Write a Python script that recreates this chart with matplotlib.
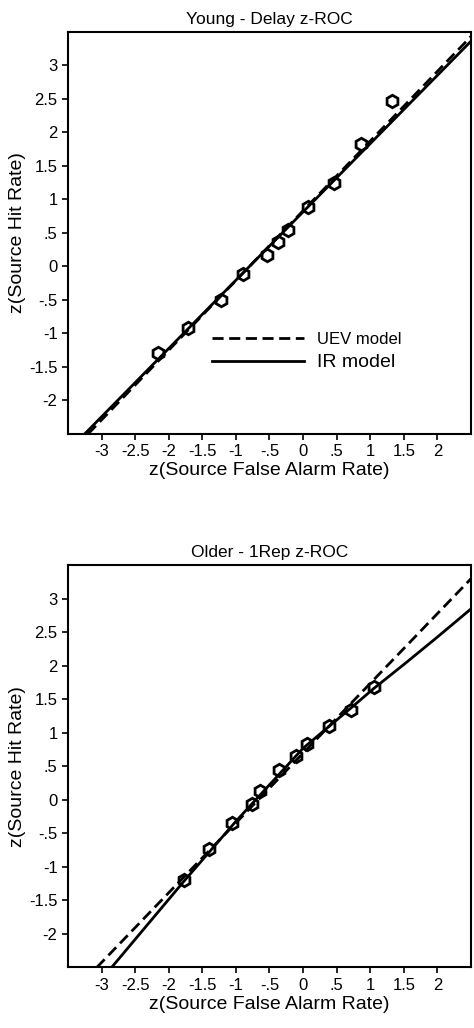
import numpy as np
import matplotlib.pyplot as plt

plt.rcParams['font.family'] = ['Liberation Sans', 'DejaVu Sans']

# ticks
xticks = [-3, -2.5, -2, -1.5, -1, -0.5, 0, 0.5, 1, 1.5, 2]
xticklabels = ["-3", "-2.5", "-2", "-1.5", "-1", "-.5", "0", ".5", "1", "1.5", "2"]
yticks = [-2, -1.5, -1, -0.5, 0, 0.5, 1, 1.5, 2, 2.5, 3]
yticklabels = ["-2", "-1.5", "-1", "-.5", "0", ".5", "1", "1.5", "2", "2.5", "3"]

# Young - Delay
young_far = [-2.16, -1.71, -1.22, -0.90, -0.53, -0.38, -0.22, 0.08, 0.46, 0.86, 1.32]
young_hit = [-1.29, -0.92, -0.50, -0.12, 0.17, 0.37, 0.54, 0.89, 1.25, 1.83, 2.47]
young_uev_x = [-3.2, 2.5]
young_uev_y = [-2.5, 3.43]
young_ir_x = [-3.25, 2.5]
young_ir_y = [-2.5, 3.36]

# Older - 1Rep
older_far = [-1.77, -1.40, -1.06, -0.76, -0.64, -0.36, -0.11, 0.06, 0.38, 0.71, 1.05]
older_hit = [-1.19, -0.73, -0.35, -0.06, 0.13, 0.44, 0.65, 0.84, 1.10, 1.34, 1.68]
older_uev_x = [-3.07, 2.5]
older_uev_y = [-2.5, 3.3]
older_ir_x = [-2.85, -1.77, -1.0, 0.0, 0.7, 1.05, 1.5, 2.0, 2.5]
older_ir_y = [-2.5, -1.21, -0.32, 0.77, 1.36, 1.66, 2.02, 2.43, 2.85]

fig = plt.figure(figsize=(4.74, 10.28), dpi=100)
ax1 = fig.add_axes([0.1435, 0.578, 0.850, 0.391])
ax2 = fig.add_axes([0.1435, 0.059, 0.850, 0.391])

panels = [
    (ax1, "Young - Delay z-ROC", young_far, young_hit, young_uev_x, young_uev_y, young_ir_x, young_ir_y),
    (ax2, "Older - 1Rep z-ROC", older_far, older_hit, older_uev_x, older_uev_y, older_ir_x, older_ir_y),
]

for ax, title, fx, hy, ux, uy, ix, iy in panels:
    ax.plot(ux, uy, color='black', linestyle='--', linewidth=2, dashes=(4, 2), label="UEV model")
    ax.plot(ix, iy, color='black', linestyle='-', linewidth=2, label="IR model")
    ax.plot(fx, hy, linestyle='none', marker='h', markersize=9, markerfacecolor='none',
            markeredgecolor='black', markeredgewidth=2)
    ax.set_xlim(-3.5, 2.5)
    ax.set_ylim(-2.5, 3.5)
    ax.set_xticks(xticks)
    ax.set_xticklabels(xticklabels, fontsize=12)
    ax.set_yticks(yticks)
    ax.set_yticklabels(yticklabels, fontsize=12)
    ax.tick_params(direction='out', length=4, width=1.2, top=False, right=False)
    for s in ax.spines.values():
        s.set_linewidth(1.5)
    ax.set_title(title, fontsize=12.5, pad=6)
    ax.set_xlabel("z(Source False Alarm Rate)", fontsize=14, labelpad=2)
    ax.set_ylabel("z(Source Hit Rate)", fontsize=14, labelpad=2)

leg = ax1.legend(loc='lower left', bbox_to_anchor=(0.32, 0.12), frameon=False,
                 handlelength=5.5, fontsize=12, labelspacing=0.4)
leg.get_texts()[1].set_fontsize(14)

fig.savefig("out.png", dpi=100)
